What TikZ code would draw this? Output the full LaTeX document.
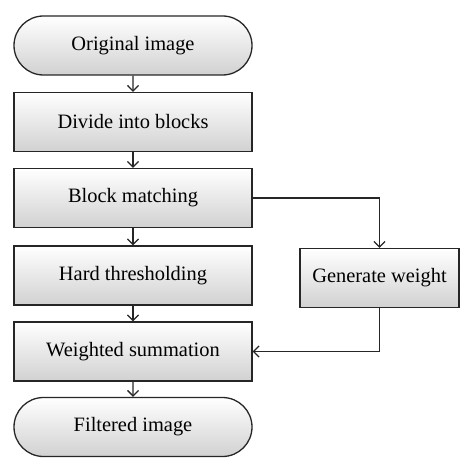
\documentclass[tikz,border=0pt]{standalone}
\usepackage{fontspec}
\setmainfont{Liberation Serif}
\usetikzlibrary{shapes.misc,arrows.meta}
\begin{document}
\begin{tikzpicture}[x=1bp,y=-1bp,
  box/.style={draw=black!85,line width=1.3bp,top color=white,bottom color=black!18,
    minimum height=59bp,inner sep=0pt,font=\fontsize{20.5}{24}\selectfont},
  leftbox/.style={box,minimum width=238bp},
  term/.style={leftbox,rounded rectangle},
  conn/.style={draw=black!85,line width=1.3bp,-{Straight Barb[length=5.5bp,width=11bp]}}]
\useasboundingbox (0,0) rectangle (474,474);
\node[term] (orig) at (133,45.5) {Original image};
\node[leftbox] (div) at (133,122) {Divide into blocks};
\node[leftbox] (bm) at (133,198) {Block matching};
\node[leftbox] (ht) at (133,275.5) {Hard thresholding};
\node[leftbox] (ws) at (133,351.5) {Weighted summation};
\node[term] (fi) at (133,427) {Filtered image};
\node[box,minimum width=159bp] (gw) at (379.5,278) {Generate weight};
\draw[conn] (orig) -- (div);
\draw[conn] (div) -- (bm);
\draw[conn] (bm) -- (ht);
\draw[conn] (ht) -- (ws);
\draw[conn] (ws) -- (fi);
\draw[conn] (bm.east) -| (gw.north);
\draw[conn] (gw.south) |- (ws.east);
\end{tikzpicture}
\end{document}
